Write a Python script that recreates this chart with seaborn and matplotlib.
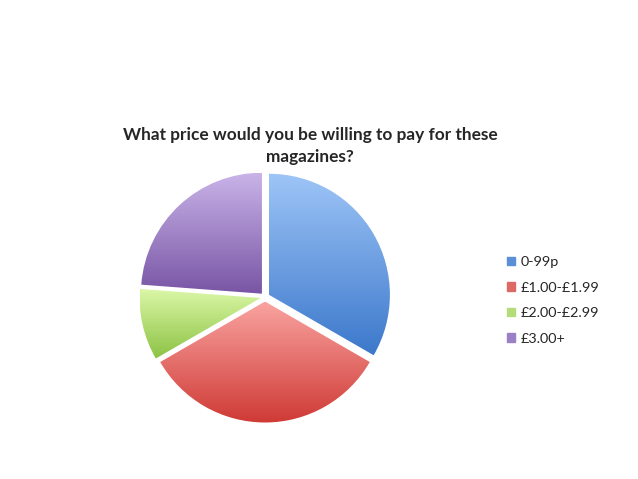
import numpy as np
import matplotlib
matplotlib.use("Agg")
import matplotlib.pyplot as plt
import matplotlib.patches as mpatches
from matplotlib.colors import LinearSegmentedColormap
import seaborn as sns

# Data (counts)
labels = ["0-99p", "£1.00-£1.99", "£2.00-£2.99", "£3.00+"]
counts = [7, 7, 2, 5]
title = "What price would you be willing to pay for these\nmagazines?"

# gradient colours per slice: (top, bottom)
tops = ["#9EC5F7", "#F9A3A0", "#DAF7A6", "#C9B3E8"]
bottoms = ["#3C78CB", "#CF3A35", "#8CC244", "#7855A5"]
legend_cols = ["#5B8FD6", "#DE6A66", "#B4DD7A", "#9B80C6"]

sns.set_style("white")
plt.rcParams["font.family"] = ["Lato", "DejaVu Sans"]

W, H = 638, 479
fig = plt.figure(figsize=(W / 100, H / 100), dpi=100)
ax = fig.add_axes([0, 0, 1, 1])

cx, cy, r = 265, H - 297, 121
wedges, _ = ax.pie(counts, startangle=90, counterclock=False, radius=r,
                   center=(cx, cy), explode=[4.5] * 4, frame=True,
                   wedgeprops=dict(linewidth=0))

grad = np.linspace(0, 1, 256).reshape(-1, 1)
for w, t, b in zip(wedges, tops, bottoms):
    w.set_facecolor("none")
    bb = w.get_path().get_extents(w.get_transform() - ax.transData)
    cmap = LinearSegmentedColormap.from_list("g", [b, t])
    im = ax.imshow(grad, cmap=cmap, origin="lower", aspect="auto",
                   extent=[bb.x0, bb.x1, bb.y0, bb.y1], zorder=1)
    im.set_clip_path(w)
ax.set_xlim(0, W)
ax.set_ylim(0, H)
ax.set_aspect("equal")
ax.axis("off")

fig.text(310 / W, 1 - 146 / H, title, ha="center", va="center",
         fontsize=12.4, fontweight="bold", linespacing=1.45)

handles = [mpatches.Patch(color=c, label=l) for c, l in zip(legend_cols, labels)]
fig.legend(handles=handles, loc="upper left", bbox_to_anchor=(500 / W, 1 - 249 / H),
           frameon=False, fontsize=10.4, handlelength=0.55, handleheight=0.55,
           handletextpad=0.35, labelspacing=0.93, borderpad=0)

fig.savefig("out.png", dpi=100, facecolor="white")
